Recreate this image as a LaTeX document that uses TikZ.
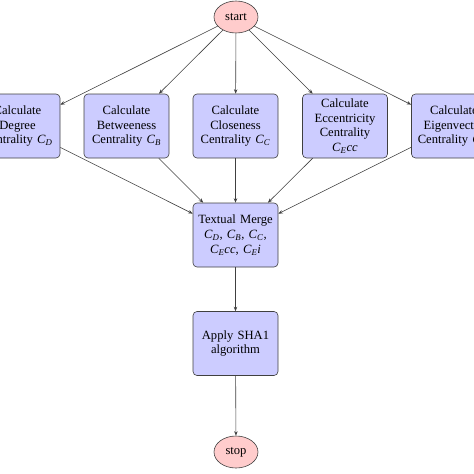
\documentclass[tikz,border=0pt]{standalone}
\usepackage{fontspec}
\setmainfont{Liberation Serif}
\usetikzlibrary{shapes.geometric,arrows.meta}
\newcommand{\Cx}[1]{\textit{C}\textsubscript{\textit{#1}}}
\begin{document}
\begin{tikzpicture}[x=1pt,y=-1pt,
  procbox/.style={draw=black!75,fill=blue!20,rounded corners=4pt,minimum width=85pt,minimum height=64pt,
    text width=82pt,align=center,inner sep=1pt,font=\fontsize{12.6}{14.8}\selectfont,line width=0.6pt},
  term/.style={ellipse,draw=black!75,fill=red!20,minimum width=44pt,minimum height=32pt,inner sep=0pt,
    font=\fontsize{12.6}{14.8}\selectfont,line width=0.6pt},
  conn/.style={-{Stealth[length=4.5pt,width=3.5pt]},draw=black!75,line width=0.6pt}]
\useasboundingbox (0,0) rectangle (474,474);
\node[term] (start) at (236,17) {start};
\node[procbox] (cd) at (17.5,126) {Calculate\\Degree\\Centrality \Cx{D}};
\node[procbox] (cb) at (126.5,126) {Calculate\\Betweeness\\Centrality \Cx{B}};
\node[procbox] (cc) at (235.5,126) {Calculate\\Closeness\\Centrality \Cx{C}};
\node[procbox] (ce) at (345,126) {Calculate\\Eccentricity\\Centrality\\\Cx{E}\textit{cc}};
\node[procbox] (ci) at (454,126) {Calculate\\Eigenvector\\Centrality \Cx{E}\textit{i}};
\node[procbox] (merge) at (235.5,235) {Textual Merge\\\Cx{D}, \Cx{B}, \Cx{C},\\\Cx{E}\textit{cc}, \Cx{E}\textit{i}};
\node[procbox] (sha) at (235.5,343.5) {Apply SHA1\\algorithm};
\node[term] (stop) at (236,452) {stop};
\foreach \b in {cd,cb,cc,ce,ci}{
  \draw[conn] (start) -- (\b);
  \draw[conn] (\b) -- (merge);
}
\draw[conn] (merge) -- (sha);
\draw[conn] (sha) -- (stop);
\end{tikzpicture}
\end{document}
